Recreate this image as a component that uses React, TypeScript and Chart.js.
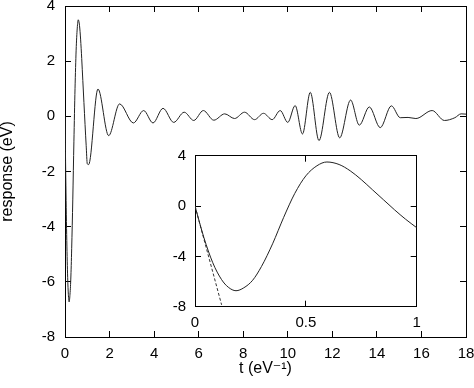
import React, { useEffect, useRef } from "react";
import { Chart, registerables } from "chart.js";

Chart.register(...registerables);

// ---- data ----
const tValues = [
  0, 0.04, 0.08, 0.12, 0.15, 0.185, 0.22, 0.26, 0.3, 0.35, 0.4, 0.45, 0.5, 0.55, 0.595,
  0.65, 0.7, 0.75, 0.8, 0.85, 0.9, 0.95, 1.0,
  1.06, 1.48, 1.96, 2.45, 3.07, 3.53, 3.95, 4.4, 4.88, 5.35, 5.78, 6.21, 6.68, 7.17,
  7.61, 8.06, 8.51, 8.91, 9.3, 9.66, 10.0, 10.33, 10.66, 11.01, 11.4, 11.87, 12.33,
  12.82, 13.21, 13.66, 14.15, 14.65, 15.05, 15.4, 15.75, 16.48, 17.03, 17.5, 17.78, 18.0,
];
const responseValues = [
  0, -2.5, -4.5, -5.85, -6.45, -6.73, -6.5, -5.9, -4.8, -3.0, -0.9, 1.0, 2.4, 3.2, 3.5,
  3.3, 2.8, 2.1, 1.3, 0.5, -0.3, -1.05, -1.72,
  -1.75, 0.99, -0.7, 0.45, -0.24, 0.21, -0.24, 0.29, -0.22, 0.15, -0.15, 0.21, -0.14, 0.09,
  -0.08, 0.15, -0.12, 0.11, -0.12, 0.21, -0.22, 0.39, -0.64, 0.87, -0.88, 0.87, -0.78,
  0.59, -0.32, 0.34, -0.41, 0.38, -0.05, -0.04, -0.08, 0.21, -0.15, -0.05, 0.09, 0.08,
];
const insetTMax = 1;
const linearT = [0, 0.12];
const linearResponse = [0, -7.85];

const mainXRange = [0, 18];
const mainXStep = 2;
const mainYRange = [-8, 4];
const mainYStep = 2;
const insetXRange = [0, 1];
const insetXStep = 0.5;
const insetYRange = [-8, 4];
const insetYStep = 4;

const xTitle = "t (eV\u207B\u00B9)";
const yTitle = "response (eV)";

const FONT = "'Liberation Sans', Arial, Helvetica, 'DejaVu Sans', sans-serif";

function pts(xs: number[], ys: number[], maxX = Infinity) {
  const out: { x: number; y: number }[] = [];
  for (let i = 0; i < xs.length; i++) if (xs[i] <= maxX) out.push({ x: xs[i], y: ys[i] });
  return out;
}

function axis(
  position: string,
  range: number[],
  step: number,
  showLabels: boolean,
  tickPad: number,
  size: number,
  extra: any = {}
) {
  const horizontal = position === "top" || position === "bottom";
  return {
    type: "linear",
    position,
    min: range[0],
    max: range[1],
    ticks: {
      display: showLabels,
      stepSize: step,
      padding: tickPad,
      color: "#000",
      font: { family: FONT, size: 15 },
      maxRotation: 0,
      autoSkip: false,
      includeBounds: true,
      callback: (v: any) => String(Math.round(Number(v) * 1000) / 1000),
    },
    grid: {
      drawOnChartArea: false,
      drawTicks: true,
      tickLength: -6,
      color: "#000",
      lineWidth: 1,
    },
    border: { display: true, color: "#000", width: 1 },
    afterFit: (s: any) => {
      if (horizontal) {
        s.height = size;
        s.paddingLeft = 0;
        s.paddingRight = 0;
      } else {
        s.width = size;
        s.paddingTop = 0;
        s.paddingBottom = 0;
      }
    },
    ...extra,
  };
}

export default function App() {
  const mainRef = useRef<HTMLCanvasElement>(null);
  const insetRef = useRef<HTMLCanvasElement>(null);

  useEffect(() => {
    const main = new Chart(mainRef.current as HTMLCanvasElement, {
      type: "line",
      data: {
        datasets: [
          {
            data: pts(tValues, responseValues),
            borderColor: "#222",
            borderWidth: 1,
            pointRadius: 0,
            cubicInterpolationMode: "monotone",
            xAxisID: "x",
            yAxisID: "y",
          },
        ],
      },
      options: {
        responsive: false,
        animation: false,
        devicePixelRatio: 1,
        layout: { padding: { left: 0, top: 6, right: 8, bottom: 0 } },
        plugins: { legend: { display: false }, tooltip: { enabled: false } },
        scales: {
          x: axis("bottom", mainXRange, mainXStep, true, 14, 51, {
            title: {
              display: true,
              text: xTitle,
              color: "#000",
              font: { family: FONT, size: 16 },
              padding: { top: 0, bottom: 10 },
            },
          }),
          x2: axis("top", mainXRange, mainXStep, false, 0, 0),
          y: axis("left", mainYRange, mainYStep, true, 16, 65, {
            title: {
              display: true,
              text: yTitle,
              color: "#000",
              font: { family: FONT, size: 16, lineHeight: 1 },
              padding: { top: 0, bottom: 0 },
            },
          }),
          y2: axis("right", mainYRange, mainYStep, false, 0, 0),
        } as any,
      },
    } as any);

    const inset = new Chart(insetRef.current as HTMLCanvasElement, {
      type: "line",
      data: {
        datasets: [
          {
            data: pts(tValues, responseValues, insetTMax),
            borderColor: "#222",
            borderWidth: 1,
            pointRadius: 0,
            cubicInterpolationMode: "monotone",
            xAxisID: "x",
            yAxisID: "y",
          },
          {
            data: pts(linearT, linearResponse),
            borderColor: "#333",
            borderWidth: 1,
            borderDash: [3, 2],
            pointRadius: 0,
            xAxisID: "x",
            yAxisID: "y",
          },
        ],
      },
      options: {
        responsive: false,
        animation: false,
        devicePixelRatio: 1,
        layout: { padding: { left: 0, top: 10.7, right: 13.3, bottom: 0 } },
        plugins: { legend: { display: false }, tooltip: { enabled: false } },
        scales: {
          x: axis("bottom", insetXRange, insetXStep, true, 13, 33.3),
          x2: axis("top", insetXRange, insetXStep, false, 0, 0),
          y: axis("left", insetYRange, insetYStep, true, 15, 50),
          y2: axis("right", insetYRange, insetYStep, false, 0, 0),
        } as any,
      },
      plugins: [
        {
          id: "whiteArea",
          beforeDraw(c: any) {
            const a = c.chartArea;
            const ctx = c.ctx;
            ctx.save();
            ctx.fillStyle = "#fff";
            ctx.fillRect(a.left, a.top, a.right - a.left, a.bottom - a.top);
            ctx.restore();
          },
        },
      ],
    } as any);

    return () => {
      main.destroy();
      inset.destroy();
    };
  }, []);

  return (
    <div
      style={{
        position: "fixed",
        left: 0,
        top: 0,
        width: 474,
        height: 388,
        background: "#fff",
        overflow: "hidden",
      }}
    >
      <canvas
        ref={mainRef}
        width={474}
        height={388}
        style={{ position: "absolute", left: 0, top: 0, width: 474, height: 388 }}
      />
      <canvas
        ref={insetRef}
        width={285}
        height={195}
        style={{ position: "absolute", left: 145, top: 145, width: 285, height: 195 }}
      />
    </div>
  );
}
